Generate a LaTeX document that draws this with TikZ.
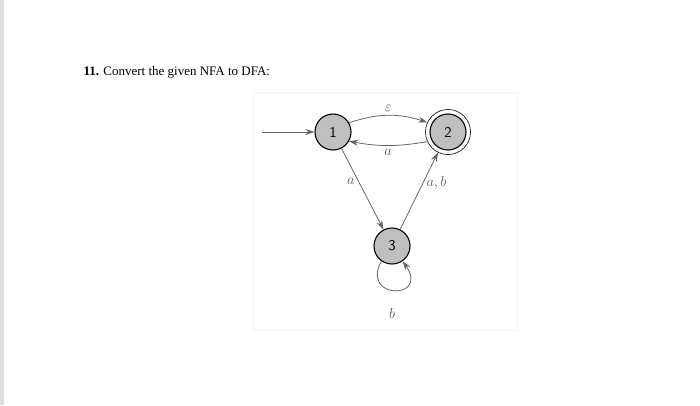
\documentclass[tikz,border=0pt]{standalone}
\usepackage{fontspec}
\setmainfont{Liberation Serif}
\usetikzlibrary{arrows.meta}
\begin{document}
\begin{tikzpicture}[x=1pt,y=-1pt,
  st/.style={circle,draw=black,line width=1.1pt,fill=gray!50,minimum size=36pt,inner sep=0pt,font=\fontsize{15}{15}\sffamily},
  ed/.style={draw=gray!80!black,line width=0.8pt,-{Stealth[length=9pt,width=6pt]}},
  lb/.style={font=\fontsize{14}{14}\selectfont\itshape, text=gray!70!black}]
\useasboundingbox (0,0) rectangle (700,405);
\fill[white] (0,0) rectangle (700,405);
\fill[gray!25] (0,0) rectangle (4,405);
\draw[gray!8,line width=0.6pt] (253,92) rectangle (517,330);
\node[anchor=west,font=\fontsize{13}{13}\selectfont] (t) at (80,72) {\textbf{11.} Convert the given NFA to DFA:};
\node[st] (n1) at (333,132) {1};
\node[st] (n2) at (448,132) {2};
\node[circle,draw=black,line width=0.6pt,minimum size=45pt] (n2o) at (448,132) {};
\node[st] (n3) at (392,246) {3};
\coordinate (s) at (262,132);
\draw[ed] (s) -- (n1);
\draw[ed] (n1.30) to[bend left=18] node[lb,above] {$\varepsilon$} (n2o.155);
\draw[ed] (n2o.205) to[bend left=10] node[lb,below] {$a$} (n1.-30);
\draw[ed] (n1) -- node[lb,left,pos=0.4] {$a$} (n3);
\draw[ed] (n3) -- node[lb,right,pos=0.6] {$a,b$} (n2o);
\draw[ed] (n3.235) .. controls (360,300) and (430,300) .. (n3.-55);
\node[lb] (lbb) at (392,313) {$b$};
\end{tikzpicture}
\end{document}
